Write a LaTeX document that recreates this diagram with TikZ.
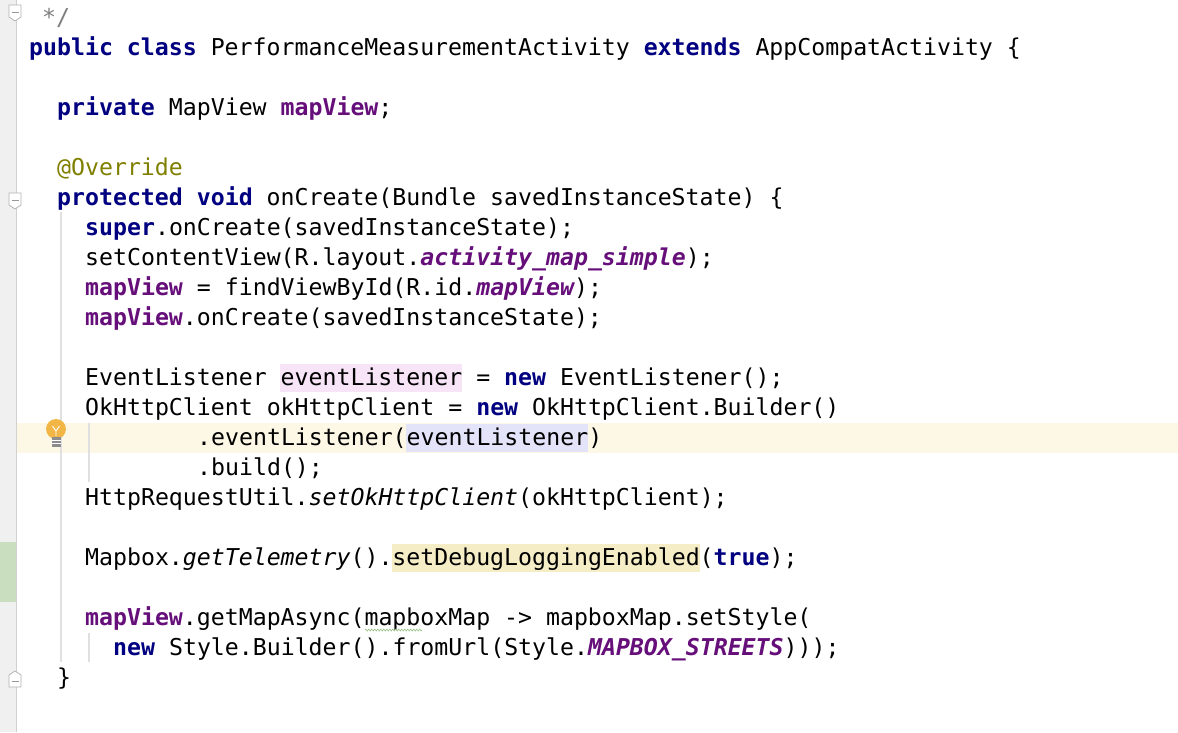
\documentclass[tikz,border=0pt]{standalone}
\usepackage{fontspec}
\setmonofont{DejaVu Sans Mono}
\usetikzlibrary{decorations.pathmorphing}
\definecolor{kw}{HTML}{000080}
\definecolor{fld}{HTML}{660E7A}
\definecolor{ann}{HTML}{808000}
\definecolor{cmt}{HTML}{808080}
\definecolor{gut}{HTML}{F0F0F0}
\definecolor{curline}{HTML}{FDF8E6}
\definecolor{chg}{HTML}{C9DDBF}
\definecolor{hlpink}{HTML}{F7E4F7}
\definecolor{hlblue}{HTML}{E3E4FA}
\definecolor{hlyel}{HTML}{F4EDC6}
\definecolor{bulb}{HTML}{F2B646}
\definecolor{squig}{HTML}{9BC48A}
\newcommand{\K}[1]{\textcolor{kw}{\bfseries #1}}
\newcommand{\F}[1]{\textcolor{fld}{\bfseries #1}}
\newcommand{\FI}[1]{\textcolor{fld}{\bfseries\itshape #1}}
\newcommand{\I}[1]{\textit{#1}}
\tikzset{code/.style={anchor=base west,inner sep=0pt,font=\ttfamily\fontsize{23.2}{30}\selectfont},
 guide/.style={draw=black!12,line width=1.2pt},
 fold/.style={draw=black!30,fill=white,line width=0.8pt}}
\begin{document}
\begin{tikzpicture}[x=1pt,y=-1pt]
\useasboundingbox (0,0) rectangle (1178,732);
\fill[white] (0,0) rectangle (1178,732);
\fill[gut] (0,0) rectangle (16,732);
\draw[black!18,line width=1pt] (16.5,0) -- (16.5,732);
\fill[curline] (17,423) rectangle (1178,453);
\fill[chg] (0,542) rectangle (16,602);
% highlights
\fill[hlpink] (280,364) rectangle (462,392);
\fill[hlblue] (406,424) rectangle (588,452);
\fill[hlyel] (392,544) rectangle (700,572);
% guides
\draw[guide] (61,212) -- (61,662);
\draw[guide] (89,423) -- (89,482);
\draw[guide] (89,633) -- (89,662);
% fold markers
\foreach \yy in {12,200} {\path[fold] (9,\yy-7) -- (21,\yy-7) -- (21,\yy+5) -- (15,\yy+9) -- (9,\yy+5) -- cycle; \draw[black!40] (11.5,\yy) -- (18.5,\yy);}
\path[fold] (9,687) -- (9,675) -- (15,671) -- (21,675) -- (21,687) -- cycle; \draw[black!40] (11.5,681) -- (18.5,681);
% lightbulb
\fill[bulb] (56pt,-429pt) circle (10pt);
\fill[black!45] (51.5,437) rectangle (60.5,447);
\draw[white,line width=0.8pt] (51,440.5) -- (61,440.5) (51,443.5) -- (61,443.5);
\draw[white,line width=0.9pt] (52.5,426) -- (56,431) -- (59.5,426) (56,431) -- (56,436);
% code lines
\node[code] (c0) at (28,25) {\textcolor{cmt}{\phantom{x}*/}};
\node[code] (c1) at (29,55) {\K{public} \K{class} PerformanceMeasurementActivity \K{extends} AppCompatActivity \{};
\node[code] (c3) at (57,115) {\K{private} MapView \F{mapView};};
\node[code] (c5) at (57,175) {\textcolor{ann}{@Override}};
\node[code] (c6) at (57,205) {\K{protected} \K{void} onCreate(Bundle savedInstanceState) \{};
\node[code] (c7) at (85,235) {\K{super}.onCreate(savedInstanceState);};
\node[code] (c8) at (85,265) {setContentView(R.layout.\FI{activity\_map\_simple});};
\node[code] (c9) at (85,295) {\F{mapView} = findViewById(R.id.\FI{mapView});};
\node[code] (c10) at (85,325) {\F{mapView}.onCreate(savedInstanceState);};
\node[code] (c12) at (85,385) {EventListener eventListener = \K{new} EventListener();};
\node[code] (c13) at (85,415) {OkHttpClient okHttpClient = \K{new} OkHttpClient.Builder()};
\node[code] (c14) at (197,445) {.eventListener(eventListener)};
\node[code] (c15) at (197,475) {.build();};
\node[code] (c16) at (85,505) {HttpRequestUtil.\I{setOkHttpClient}(okHttpClient);};
\node[code] (c18) at (85,565) {Mapbox.\I{getTelemetry}().setDebugLoggingEnabled(\K{true});};
\node[code] (c20) at (85,625) {\F{mapView}.getMapAsync(mapboxMap -> mapboxMap.setStyle(};
\node[code] (c21) at (113,655) {\K{new} Style.Builder().fromUrl(Style.\FI{MAPBOX\_STREETS})));};
\node[code] (c22) at (57,685) {\}};
\draw[squig,line width=0.6pt,decorate,decoration={zigzag,amplitude=1pt,segment length=3pt}] (365,630) -- (422,630);
\end{tikzpicture}
\end{document}
